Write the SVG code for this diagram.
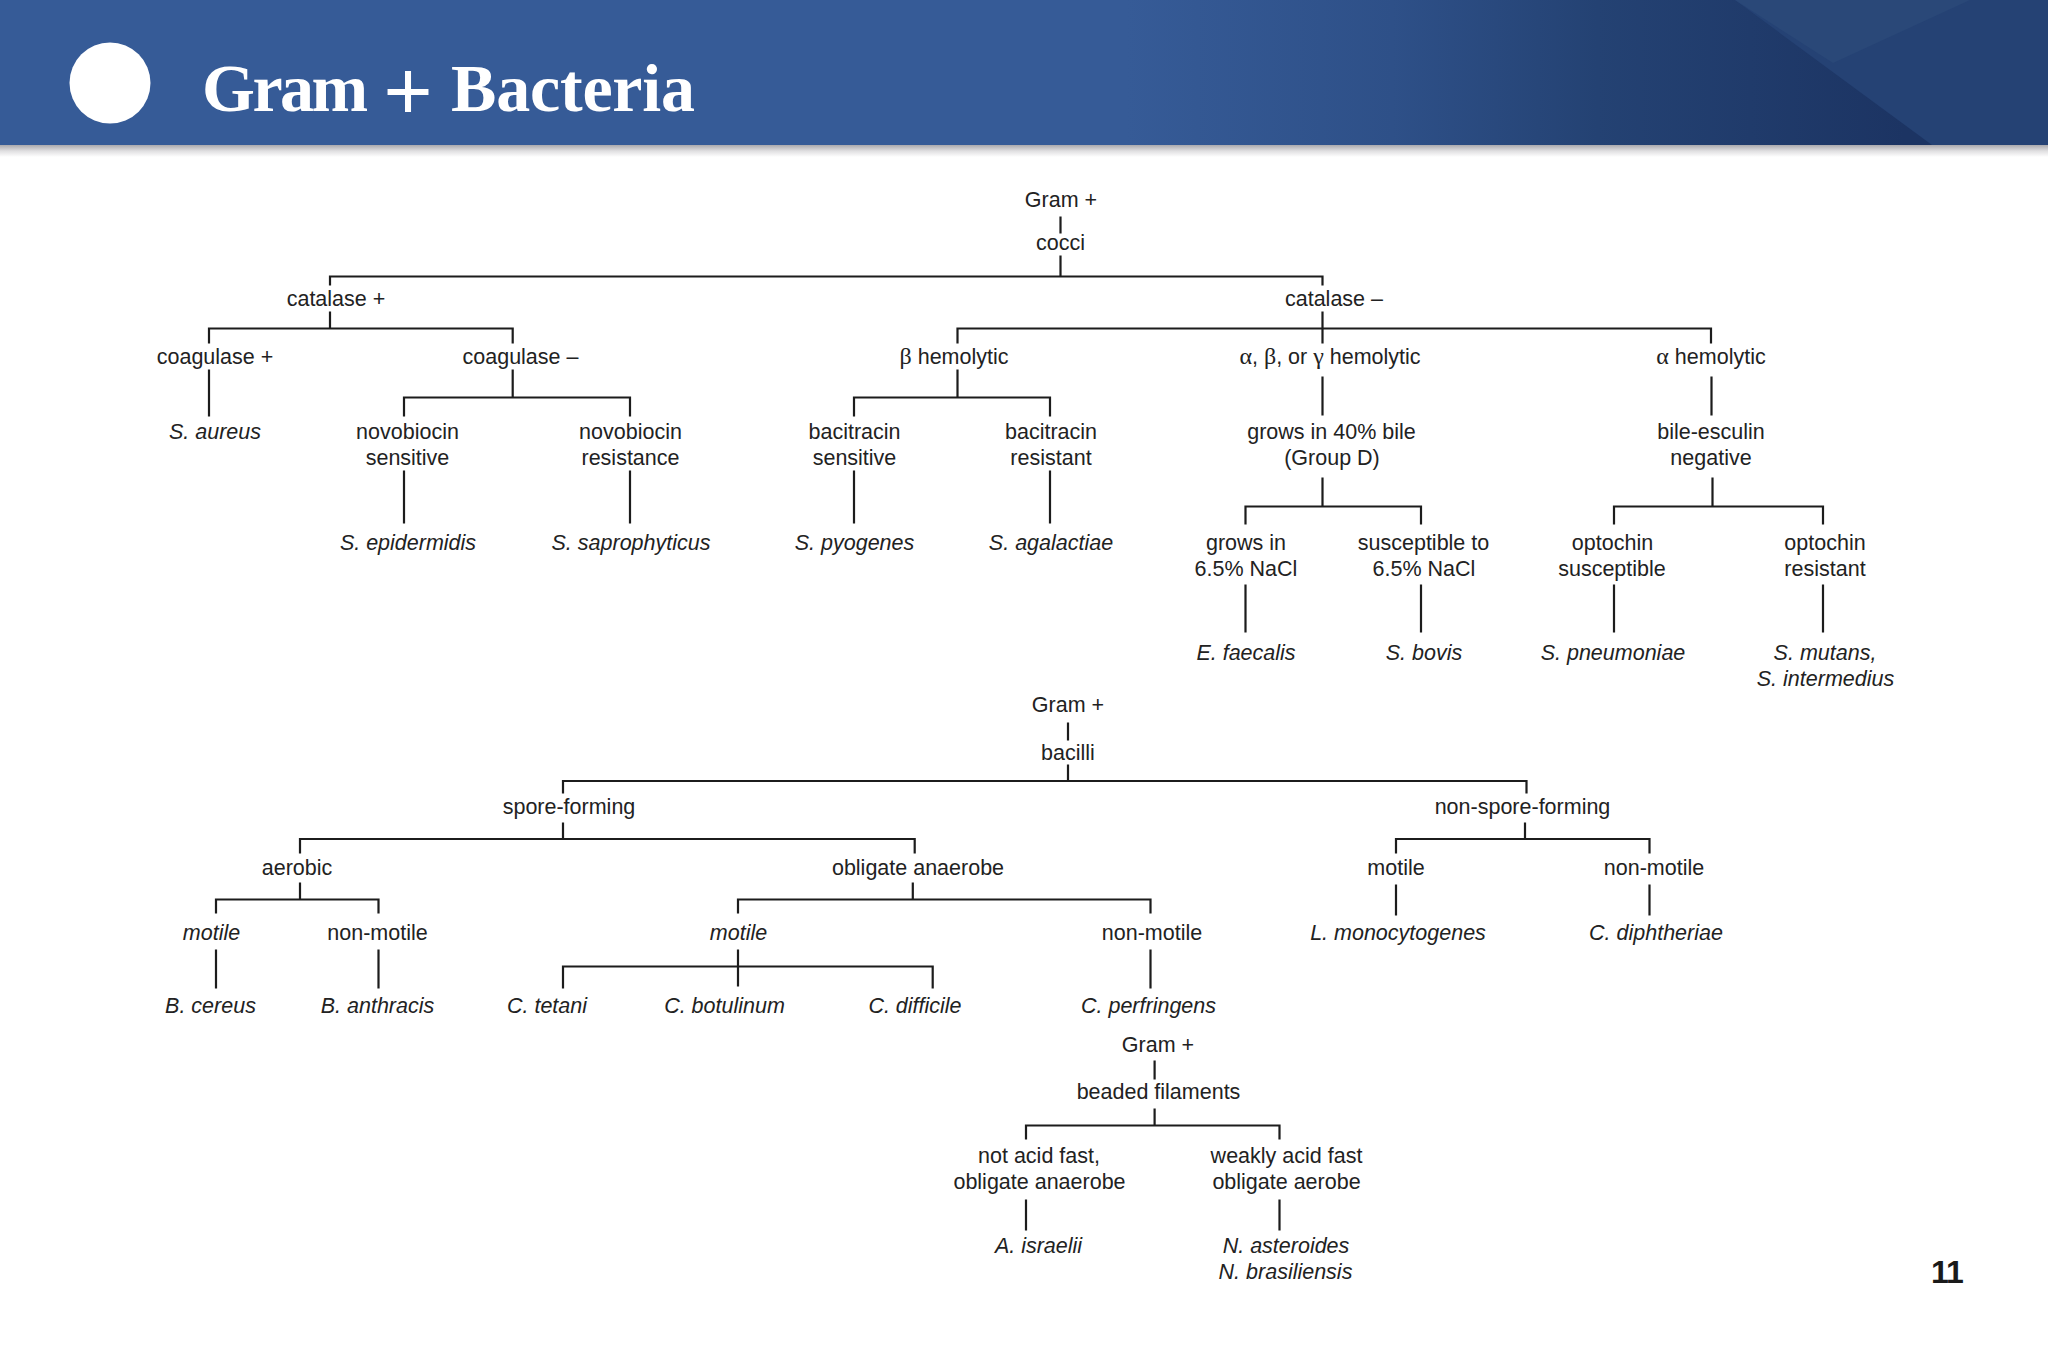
<svg xmlns="http://www.w3.org/2000/svg" width="2048" height="1367" viewBox="0 0 2048 1367">
<style>
text{font-family:"Liberation Sans",Arial,sans-serif;font-size:21.5px;fill:#222222;text-anchor:middle}
.i{font-style:italic}
.g{font-family:"Liberation Serif","Times New Roman",serif;font-size:24px}
#connectors path{fill:none;stroke:#1c1c1c;stroke-width:2.2}
#title{font-family:"Liberation Serif","Times New Roman",serif;font-weight:bold;font-size:68px;fill:#ffffff;text-anchor:start}
</style>
<defs>
<linearGradient id="hdr" x1="0" y1="0" x2="1" y2="0" gradientUnits="objectBoundingBox">
<stop offset="0" stop-color="#365b97"/><stop offset="0.55" stop-color="#365b97"/><stop offset="0.68" stop-color="#2e5088"/><stop offset="0.78" stop-color="#244273"/><stop offset="0.93" stop-color="#1c3463"/><stop offset="1" stop-color="#1c3463"/>
</linearGradient>
<linearGradient id="shd" x1="0" y1="0" x2="0" y2="1">
<stop offset="0" stop-color="#aaa9ad"/><stop offset="0.5" stop-color="#e0dfe1"/><stop offset="1" stop-color="#ffffff"/>
</linearGradient>
</defs>
<rect width="2048" height="1367" fill="#ffffff"/>
<g id="header">
<rect x="0" y="145" width="2048" height="12" fill="url(#shd)"/>
<rect x="0" y="0" width="2048" height="145" fill="url(#hdr)"/>
<polygon points="1735,0 2048,0 2048,145 1932,145" fill="#254274"/>
<polygon points="1735,0 1970,0 1833,63" fill="#2a4878"/>
<ellipse cx="110" cy="83" rx="40.5" ry="40.5" fill="#ffffff"/>
<text id="title" x="202" y="110.5"><tspan x="202" letter-spacing="-2.5">Gram </tspan><tspan x="383.5" dy="8.5" style="font-family:'Liberation Sans',Arial,sans-serif;font-weight:normal;font-size:84px">+ </tspan><tspan x="451" dy="-8.5" letter-spacing="-0.2">Bacteria</tspan></text>
</g>
<g id="diagram" transform="translate(0,0.5)">
<g id="connectors">
<path d="M1060.5 216V233M1060.5 255V276M330 285V276H1322.5V285"/>
<path d="M330 311V328M209 343V328H512.7V343M1322.5 311V343M957.5 343V328H1711V343"/>
<path d="M209 369V416M512.7 369V397M404 416V397H630V416M404 470V523M630 470V523"/>
<path d="M957.5 369V397M854 416V397H1050V416M854 470V523M1050 470V523"/>
<path d="M1322.5 376V415M1711.5 376V415M1322.5 477V506M1245.5 524V506H1421V524M1712.5 477V506M1614 524V506H1823V524"/>
<path d="M1245.5 584V632M1421 584V632M1614 584V632M1823 584V632"/>
<path d="M1068 722V740M1068 764V780.5M563 793V780.5H1526.5V793"/>
<path d="M563 822V838.5M300 853V838.5H914.7V853M1525 822V838.5M1396 853V838.5H1649.5V853"/>
<path d="M300 882V899M216 913V899H378.5V913M912.8 882V899M738 913V899H1150.5V913"/>
<path d="M1396 884V915M1649.5 884V915M216 949V988M378.5 949V988M1150.5 949V988M738 949V986M563 988V966H932.7V988"/>
<path d="M1154.6 1060V1079M1154.6 1108V1125M1026 1139V1125H1279.5V1139M1026 1199V1230M1279.5 1199V1230"/>
</g>
<g id="n-gram-cocci"><text x="1061" y="206.5">Gram +</text></g>
<g id="n-cocci"><text x="1060.5" y="249">cocci</text></g>
<g id="n-catalase-pos"><text x="336" y="305.5">catalase +</text></g>
<g id="n-catalase-neg"><text x="1334" y="305.5">catalase –</text></g>
<g id="n-coagulase-pos"><text x="215" y="363.5">coagulase +</text></g>
<g id="n-coagulase-neg"><text x="520.5" y="363.5">coagulase –</text></g>
<g id="n-beta"><text x="954" y="363.5"><tspan class="g">β</tspan> hemolytic</text></g>
<g id="n-abg"><text x="1330" y="363.5"><tspan class="g">α</tspan>, <tspan class="g">β</tspan>, or <tspan class="g">γ</tspan> hemolytic</text></g>
<g id="n-alpha"><text x="1711" y="363.5"><tspan class="g">α</tspan> hemolytic</text></g>
<g id="n-saureus"><text class="i" x="215" y="438">S. aureus</text></g>
<g id="n-novo-s"><text x="407.5" y="438">novobiocin</text><text x="407.5" y="464">sensitive</text></g>
<g id="n-novo-r"><text x="630.5" y="438">novobiocin</text><text x="630.5" y="464">resistance</text></g>
<g id="n-baci-s"><text x="854.5" y="438">bacitracin</text><text x="854.5" y="464">sensitive</text></g>
<g id="n-baci-r"><text x="1051" y="438">bacitracin</text><text x="1051" y="464">resistant</text></g>
<g id="n-bile40"><text x="1331.5" y="438">grows in 40% bile</text><text x="1332" y="464">(Group D)</text></g>
<g id="n-esculin"><text x="1711" y="438">bile-esculin</text><text x="1711" y="464">negative</text></g>
<g id="n-sepi"><text class="i" x="408" y="549">S. epidermidis</text></g>
<g id="n-ssap"><text class="i" x="631" y="549">S. saprophyticus</text></g>
<g id="n-spyo"><text class="i" x="854.5" y="549">S. pyogenes</text></g>
<g id="n-saga"><text class="i" x="1051" y="549">S. agalactiae</text></g>
<g id="n-nacl-g"><text x="1246" y="549">grows in</text><text x="1246" y="575">6.5% NaCl</text></g>
<g id="n-nacl-s"><text x="1423.5" y="549">susceptible to</text><text x="1424" y="575">6.5% NaCl</text></g>
<g id="n-opto-s"><text x="1612.5" y="549">optochin</text><text x="1612" y="575">susceptible</text></g>
<g id="n-opto-r"><text x="1825" y="549">optochin</text><text x="1825" y="575">resistant</text></g>
<g id="n-efae"><text class="i" x="1246" y="659">E. faecalis</text></g>
<g id="n-sbov"><text class="i" x="1424" y="659">S. bovis</text></g>
<g id="n-spne"><text class="i" x="1613" y="659">S. pneumoniae</text></g>
<g id="n-smut"><text class="i" x="1825" y="659">S. mutans,</text><text class="i" x="1825.5" y="685">S. intermedius</text></g>
<g id="n-gram-bac"><text x="1068" y="711.5">Gram +</text></g>
<g id="n-bacilli"><text x="1068" y="759">bacilli</text></g>
<g id="n-spore"><text x="569" y="813.5">spore-forming</text></g>
<g id="n-nonspore"><text x="1522.5" y="813.5">non-spore-forming</text></g>
<g id="n-aerobic"><text x="297" y="874">aerobic</text></g>
<g id="n-oblan"><text x="918" y="874">obligate anaerobe</text></g>
<g id="n-motile3"><text x="1396" y="874">motile</text></g>
<g id="n-nonmotile3"><text x="1654" y="874">non-motile</text></g>
<g id="n-motile1"><text class="i" x="211.5" y="939">motile</text></g>
<g id="n-nonmotile1"><text x="377.5" y="939">non-motile</text></g>
<g id="n-motile2"><text class="i" x="738.5" y="939">motile</text></g>
<g id="n-nonmotile2"><text x="1152" y="939">non-motile</text></g>
<g id="n-lmon"><text class="i" x="1398" y="939">L. monocytogenes</text></g>
<g id="n-cdip"><text class="i" x="1656" y="939">C. diphtheriae</text></g>
<g id="n-bcer"><text class="i" x="210.5" y="1012.5">B. cereus</text></g>
<g id="n-bant"><text class="i" x="377.5" y="1012.5">B. anthracis</text></g>
<g id="n-ctet"><text class="i" x="547" y="1012.5">C. tetani</text></g>
<g id="n-cbot"><text class="i" x="724.5" y="1012.5">C. botulinum</text></g>
<g id="n-cdif"><text class="i" x="915" y="1012.5">C. difficile</text></g>
<g id="n-cper"><text class="i" x="1148.5" y="1012.5">C. perfringens</text></g>
<g id="n-gram-fil"><text x="1158" y="1051.5">Gram +</text></g>
<g id="n-beaded"><text x="1158.5" y="1098.5">beaded filaments</text></g>
<g id="n-notacid"><text x="1039" y="1162.5">not acid fast,</text><text x="1039.5" y="1188.5">obligate anaerobe</text></g>
<g id="n-weakacid"><text x="1286.5" y="1162.5">weakly acid fast</text><text x="1286.5" y="1188.5">obligate aerobe</text></g>
<g id="n-aisr"><text class="i" x="1038.5" y="1252.5">A. israelii</text></g>
<g id="n-nast"><text class="i" x="1286" y="1252.5">N. asteroides</text><text class="i" x="1285.5" y="1278.5">N. brasiliensis</text></g>
</g>
<text x="1947" y="1283" letter-spacing="-0.8" style="font-weight:bold;font-size:32px;fill:#1a1a1a">11</text>
</svg>
